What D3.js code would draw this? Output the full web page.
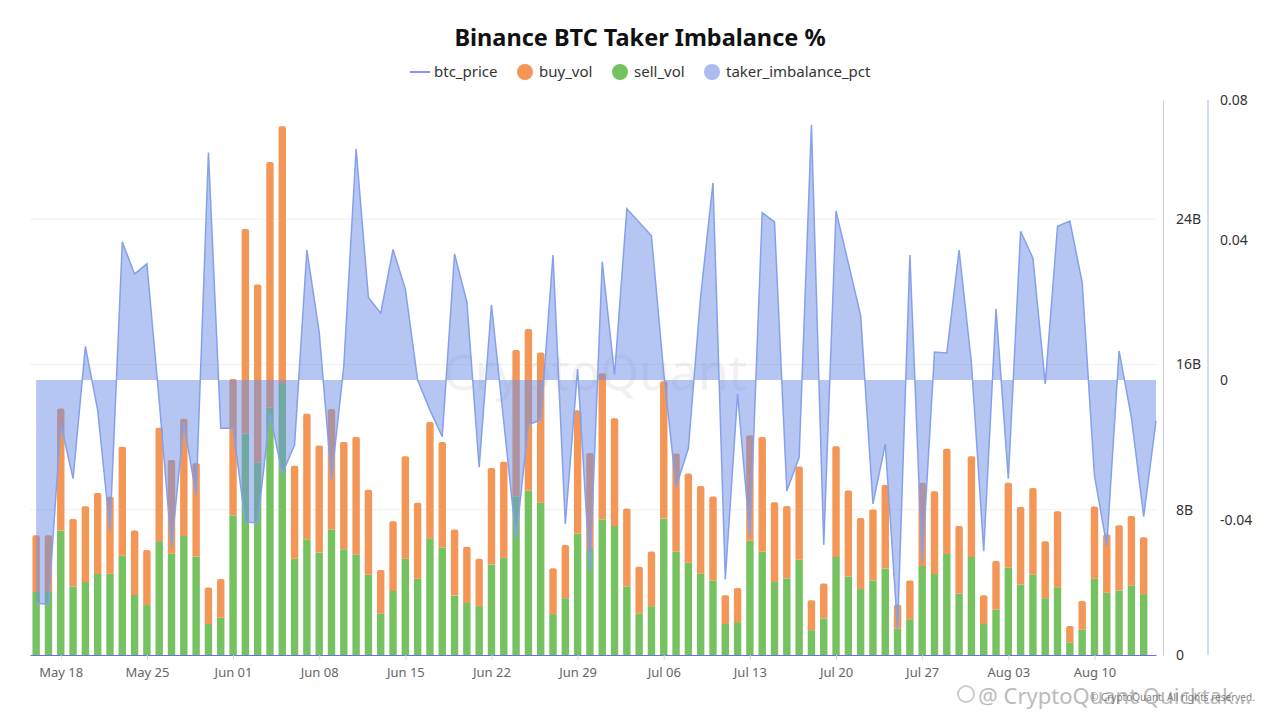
<!DOCTYPE html>
<html>
<head>
<meta charset="utf-8">
<script src="https://cdn.jsdelivr.net/npm/d3@7"></script>
<style>
  body { margin: 0; background: #fff; }
  svg { font-family: "Noto Sans", "Open Sans", sans-serif; }
</style>
</head>
<body>
<svg width="1280" height="720"></svg>
<script>
const svg = d3.select('svg');

// daily volumes in billions, May 16 .. Aug 14
const sellVol = [3.47, 3.47, 6.85, 3.78, 4.02, 4.46, 4.48, 5.48, 3.31, 2.75,
  6.27, 5.58, 6.55, 5.42, 1.71, 2.05, 7.69, 12.19, 10.6, 13.63,
  14.92, 5.3, 6.37, 5.64, 6.91, 5.82, 5.54, 4.42, 2.27, 3.53,
  5.3, 4.2, 6.43, 5.92, 3.27, 2.87, 2.69, 4.98, 5.36, 8.73,
  9.04, 8.39, 2.25, 3.13, 6.67, 5.84, 7.47, 7.11, 3.78, 2.27,
  2.69, 7.51, 5.68, 5.08, 4.48, 4.1, 1.71, 1.81, 6.29, 5.68,
  4.02, 4.22, 5.24, 1.37, 2.01, 5.4, 4.32, 3.63, 4.1, 4.76,
  1.45, 1.97, 4.9, 4.46, 5.56, 3.37, 5.4, 1.71, 2.49, 4.82,
  3.88, 4.42, 3.13, 3.73, 0.7, 1.39, 4.2, 3.43, 3.55, 3.82, 3.35];

const buyVol = [3.12, 3.12, 6.72, 3.71, 4.17, 4.46, 4.23, 5.99, 3.54, 3.03,
  6.24, 5.16, 6.46, 5.14, 2.0, 2.13, 7.51, 11.26, 9.8, 13.52,
  14.2, 5.12, 6.92, 5.89, 6.64, 5.91, 6.46, 4.68, 2.41, 3.84,
  5.64, 4.19, 6.4, 5.81, 3.64, 3.09, 2.61, 5.32, 5.28, 8.07,
  8.91, 8.26, 2.53, 2.93, 6.8, 5.28, 8.05, 5.92, 4.29, 2.59,
  3.01, 7.57, 5.42, 4.92, 4.82, 4.63, 1.58, 1.88, 5.81, 6.32,
  4.39, 3.99, 5.14, 1.64, 1.93, 6.09, 4.74, 3.92, 3.91, 4.6,
  1.32, 2.13, 4.58, 4.56, 5.79, 3.74, 5.54, 1.58, 2.69, 4.66,
  4.27, 4.78, 3.14, 4.18, 0.89, 1.58, 3.97, 3.2, 3.6, 3.83, 3.14];

// taker imbalance, May 16 .. Aug 15
const imbalancePct = [-0.0637, -0.0642, -0.0125, -0.0282, 0.0096, -0.0086, -0.0429, 0.0394, 0.0303, 0.0332,
  -0.006, -0.0479, -0.0123, -0.0328, 0.065, -0.0138, -0.0138, -0.0406, -0.0408, -0.0097,
  -0.0268, -0.0185, 0.0371, 0.0137, -0.0284, 0.004, 0.066, 0.0236, 0.0191, 0.0373,
  0.026, 0.0, -0.0086, -0.0162, 0.036, 0.0223, -0.0249, 0.0215, -0.012, -0.0455,
  -0.0128, -0.0114, 0.0357, -0.0411, 0.0031, -0.055, 0.0338, 0.0015, 0.0489, 0.0451,
  0.0412, 0.002, -0.0306, -0.0195, 0.024, 0.0563, -0.0569, -0.004, -0.0447, 0.0478,
  0.0452, -0.0317, -0.0221, 0.0729, -0.0471, 0.0483, 0.0334, 0.0184, -0.0354, -0.0183,
  -0.0712, 0.0357, -0.0523, 0.008, 0.0077, 0.0371, 0.0049, -0.0489, 0.0203, -0.0282,
  0.0425, 0.0348, -0.0011, 0.0439, 0.0454, 0.0279, -0.0273, -0.0474, 0.0083, -0.0107,
  -0.039, -0.0117];

const tickLabels = ['May 18', 'May 25', 'Jun 01', 'Jun 08', 'Jun 15', 'Jun 22', 'Jun 29',
  'Jul 06', 'Jul 13', 'Jul 20', 'Jul 27', 'Aug 03', 'Aug 10'];
const volTicks = [0, 8, 16, 24];
const imbTicks = [-0.04, 0, 0.04, 0.08];

const days = d3.timeDay.range(new Date(2025, 4, 16), new Date(2025, 7, 16));
const parseTick = d3.timeParse('%b %d %Y');
const tickDates = tickLabels.map(t => parseTick(t + ' 2025'));

const colors = { price: '#6b6cf0', buy: '#f39656', sell: '#76c260', imb: 'rgb(110,142,232)' };
const plotTop = 100, plotBottom = 655, plotLeft = 30, plotRight = 1156;

const x = d3.scaleTime()
  .domain([new Date(2025, 4, 15, 12), new Date(2025, 7, 15)])
  .range([plotLeft, plotRight]);
const yVol = d3.scaleLinear().domain([0, 30.56]).range([plotBottom, plotTop]);
const yImb = d3.scaleLinear().domain([-0.04, 0.08]).range([520, plotTop]);

// title
svg.append('text')
  .attr('x', 640).attr('y', 46)
  .attr('text-anchor', 'middle')
  .attr('font-size', '23.5px').attr('font-weight', 'bold')
  .attr('fill', '#111')
  .text('Binance BTC Taker Imbalance %');

// legend
const legend = [
  { name: 'btc_price', x: 410, type: 'line', color: colors.price },
  { name: 'buy_vol', x: 517, type: 'dot', color: colors.buy },
  { name: 'sell_vol', x: 612, type: 'dot', color: colors.sell },
  { name: 'taker_imbalance_pct', x: 704, type: 'dot', color: '#a9bbef' }
];
const lg = svg.append('g').selectAll('g').data(legend).enter().append('g')
  .attr('transform', d => `translate(${d.x},72)`);
lg.filter(d => d.type === 'line').append('line')
  .attr('x1', 0).attr('x2', 20).attr('y1', 0).attr('y2', 0)
  .attr('stroke', d => d.color).attr('stroke-width', 1.5);
lg.filter(d => d.type === 'dot').append('circle')
  .attr('cx', 8).attr('cy', 0).attr('r', 8)
  .attr('fill', d => d.color);
lg.append('text')
  .attr('x', d => d.type === 'line' ? 24 : 22).attr('y', 5)
  .attr('font-size', '15px').attr('fill', '#333')
  .text(d => d.name);

// grid lines
svg.append('g').selectAll('line').data(volTicks.slice(1)).enter().append('line')
  .attr('x1', plotLeft).attr('x2', plotRight)
  .attr('y1', d => yVol(d)).attr('y2', d => yVol(d))
  .attr('stroke', '#f0f0f0');

// watermark
svg.append('text')
  .attr('x', 595).attr('y', 390)
  .attr('text-anchor', 'middle')
  .attr('font-size', '50px')
  .attr('fill', '#999').attr('opacity', 0.13)
  .text('CryptoQuant');

// stacked bars
const barW = 7.4;
const bars = svg.append('g');
bars.selectAll('rect.sell').data(sellVol).enter().append('rect')
  .attr('class', 'sell')
  .attr('x', (d, i) => x(days[i]) - barW / 2)
  .attr('width', barW)
  .attr('y', d => yVol(d))
  .attr('height', d => plotBottom - yVol(d))
  .attr('fill', colors.sell);

bars.selectAll('path.buy').data(buyVol).enter().append('path')
  .attr('class', 'buy')
  .attr('fill', colors.buy)
  .attr('d', (d, i) => {
    const x0 = x(days[i]) - barW / 2;
    const y0 = yVol(sellVol[i]);
    const y1 = yVol(sellVol[i] + d);
    const r = 2;
    return `M${x0},${y0}V${y1 + r}Q${x0},${y1} ${x0 + r},${y1}H${x0 + barW - r}` +
      `Q${x0 + barW},${y1} ${x0 + barW},${y1 + r}V${y0}Z`;
  });

// imbalance area
const area = d3.area()
  .x((d, i) => x(days[i]))
  .y0(yImb(0))
  .y1(d => yImb(d));
const line = d3.line()
  .x((d, i) => x(days[i]))
  .y(d => yImb(d));

svg.append('path')
  .datum(imbalancePct)
  .attr('d', area)
  .attr('fill', colors.imb)
  .attr('fill-opacity', 0.5);
svg.append('path')
  .datum(imbalancePct)
  .attr('d', line)
  .attr('fill', 'none')
  .attr('stroke', '#86a0ea')
  .attr('stroke-width', 1.5);

// x axis
const xAxis = svg.append('g')
  .attr('transform', `translate(0,${plotBottom})`)
  .call(d3.axisBottom(x).tickValues(tickDates).tickFormat((d, i) => tickLabels[i])
    .tickSize(5).tickSizeOuter(0).tickPadding(8));
xAxis.select('.domain').attr('stroke', colors.price).attr('stroke-width', 1.2);
xAxis.selectAll('.tick line').attr('stroke', '#d8d8d8');
xAxis.selectAll('.tick text').attr('font-size', '13px').attr('fill', '#666')
  .attr('font-family', '"Noto Sans", sans-serif');

// volume axis
const volAxis = svg.append('g')
  .attr('transform', 'translate(1163,0)')
  .call(d3.axisRight(yVol).tickValues(volTicks)
    .tickFormat(d => d === 0 ? '0' : d + 'B')
    .tickSize(0).tickPadding(13));
volAxis.select('.domain').attr('stroke', '#d0d0d8');
volAxis.selectAll('.tick text').attr('font-size', '14px').attr('fill', '#333')
  .attr('font-family', '"Noto Sans", sans-serif');

// imbalance axis
const imbAxis = svg.append('g')
  .attr('transform', 'translate(1208,0)')
  .call(d3.axisRight(yImb).tickValues(imbTicks)
    .tickFormat(d => d === 0 ? '0' : d.toFixed(2))
    .tickSize(0).tickPadding(12));
imbAxis.select('.domain').attr('d', `M0,${plotTop}V${plotBottom}`).attr('stroke', '#a3b6f0');
imbAxis.selectAll('.tick text').attr('font-size', '14px').attr('fill', '#333')
  .attr('font-family', '"Noto Sans", sans-serif');

// corner credits
svg.append('circle')
  .attr('cx', 966).attr('cy', 694).attr('r', 8)
  .attr('fill', 'none').attr('stroke', '#ccc').attr('stroke-width', 2);
svg.append('text')
  .attr('x', 978).attr('y', 704)
  .attr('font-size', '22px').attr('fill', '#bbb')
  .text('@ CryptoQuant Quicktak...');
svg.append('text')
  .attr('x', 1090).attr('y', 701)
  .attr('font-size', '10px').attr('fill', '#666').attr('opacity', 0.8)
  .text('© CryptoQuant. All rights reserved.');
</script>
</body>
</html>
